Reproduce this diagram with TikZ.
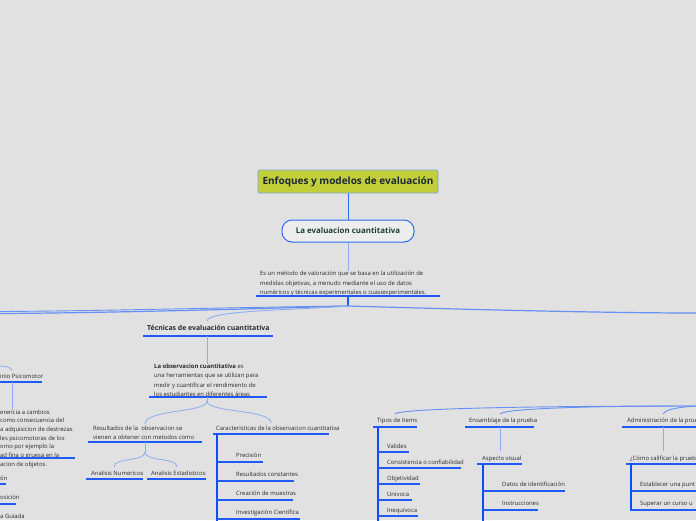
\documentclass[tikz,border=0pt]{standalone}
\usepackage{fontspec}
\setmainfont{Open Sans}
\definecolor{bgc}{HTML}{E1E1E1}
\definecolor{titlefill}{HTML}{C3CF38}
\definecolor{titleborder}{HTML}{7AA8E6}
\definecolor{titletext}{HTML}{1A2735}
\definecolor{boxborder}{HTML}{2F6BF2}
\definecolor{boxtext}{HTML}{1D3F30}
\definecolor{ulblue}{HTML}{1F5BFA}
\definecolor{barblue}{HTML}{0C4BFF}
\definecolor{connblue}{HTML}{8DADF2}
\definecolor{branchblue}{HTML}{6690F2}
\definecolor{txtc}{HTML}{2A2A2A}
\begin{document}
\begin{tikzpicture}[x=1pt,y=-1pt,
  txt/.style={font=\fontsize{5.9}{9}\selectfont, text=txtc, inner sep=0pt, anchor=base west},
  para/.style={txt, align=left, anchor=north west},
  bold/.style={txt, font=\bfseries\fontsize{6.9}{8}\selectfont},
  ul/.style={draw=ulblue, line width=1.1pt},
  bar/.style={draw=barblue, line width=2.4pt},
  conn/.style={draw=connblue, line width=0.8pt},
  branch/.style={draw=branchblue, line width=1.2pt},
]
\fill[bgc] (0,0) rectangle (696,520);
\useasboundingbox (0,0) rectangle (696,520);
\clip (0,0) rectangle (696,520);

% ---------- centre ----------
\node[draw=titleborder, fill=titlefill, rounded corners=2pt, line width=0.8pt,
      minimum width=180pt, minimum height=23pt, inner sep=0pt,
      font=\bfseries\fontsize{10}{12}\selectfont, text=titletext] (title) at (348,181.5) {Enfoques y modelos de evaluación};
\node[draw=boxborder, fill=bgc!60!white, rounded corners=10pt, line width=1pt,
      minimum width=132pt, minimum height=22pt, inner sep=0pt,
      font=\bfseries\fontsize{7.9}{9}\selectfont, text=boxtext] (eval) at (348,231) {La evaluacion cuantitativa};
\draw[draw=boxborder, line width=1pt] (title.south) -- (eval.north);

\node[para, font=\fontsize{5.9}{9.5}\selectfont] (desc) at (260,271) {Es un método de valoración que se basa en la utilización de\\medidas objetivas, a menudo mediante el uso de datos\\numéricos y técnicas experimentales o cuasiexperimentales.};
\draw[conn] (eval.south) -- (eval.south |- desc.north);
\coordinate (descL) at (256,296);
\coordinate (descR) at (440,296);
\coordinate (descS) at (348,296);
\coordinate (hub) at (348,306);
\draw[ul] (descL) -- (descR);
\draw[ul] (descS) -- (hub);

\coordinate (leftA) at (0,313.5);
\coordinate (leftB) at (0,311.5);
\coordinate (rightA) at (696,313);
\coordinate (tecTop) at (207,321);
\draw[branch] (hub) .. controls (250,309) and (100,313) .. (leftA);
\draw[branch, line width=0.9pt] (hub) .. controls (250,307) and (100,311) .. (leftB);
\draw[branch] (hub) .. controls (450,309) and (600,313) .. (rightA);
\draw[branch, draw=connblue, line width=0.9pt] (hub) .. controls (300,310) and (207,310) .. (tecTop);

% ---------- Tecnicas ----------
\node[bold] (tec) at (147,330.5) {Técnicas de evaluación cuantitativa};
\coordinate (tecL) at (143,336);
\coordinate (tecR) at (273,336);
\coordinate (tecS) at (207,336);
\draw[ul] (tecL) -- (tecR);
\node[para, font=\fontsize{5.9}{9.3}\selectfont] (obs) at (154,364) {\textbf{La observacion cuantitativa} es\\una herramientas que se utilizan para\\medir y cuantificar el rendimiento de\\los estudiantes en diferentes áreas};
\draw[conn] (tecS) -- (tecS |- obs.north);
\coordinate (obsL) at (149,397);
\coordinate (obsR) at (267,397);
\coordinate (obsS) at (207,397);
\coordinate (obsH) at (207,401);
\draw[ul] (obsL) -- (obsR);
\draw[conn] (obsS) -- (obsH);

\node[para, font=\fontsize{5.9}{9}\selectfont] (res) at (93,425.5) {Resultados de la\ \ observacion se\\vienen a obtener con metodos como};
\coordinate (resTop) at (145,424);
\coordinate (resL) at (88,442);
\coordinate (resR) at (202,442);
\coordinate (resS) at (145,442);
\coordinate (resH) at (145,452);
\draw[ul] (resL) -- (resR);
\draw[conn] (obsH) .. controls (207,413) and (145,409) .. (resTop);

\node[txt] (car) at (216,430.5) {Caracteristicas de la observacion cuantitativa};
\coordinate (carTop) at (271,423);
\coordinate (carL) at (213,434);
\coordinate (carR) at (329,434);
\coordinate (carB) at (217,434);
\coordinate (carE) at (217,525);
\draw[ul] (carL) -- (carR);
\draw[conn] (obsH) .. controls (207,413) and (271,409) .. (carTop);
\draw[bar] (carB) -- (carE);

\draw[conn] (resS) -- (resH);
\node[txt] (num) at (91,475.5) {Analisis Numericos};
\node[txt] (est) at (151,475.5) {Analisis Estadisticos};
\coordinate (numTop) at (114,467);
\coordinate (estTop) at (177,467);
\draw[conn] (resH) .. controls (145,462) and (114,457) .. (numTop);
\draw[conn] (resH) .. controls (145,462) and (177,457) .. (estTop);
\draw[ul] (86,479) coordinate (numL) -- (143,479) coordinate (numR);
\draw[ul] (147,479) coordinate (estL) -- (206,479) coordinate (estR);

\node[txt] (c1) at (236,457.5) {Precisión};
\node[txt] (c2) at (236,476.5) {Resultados constantes};
\node[txt] (c3) at (236,495.5) {Creación de muestras};
\node[txt] (c4) at (236,514.5) {Investigación Científica};
\draw[ul] (217,462) coordinate (c1L) -- (263,462) coordinate (c1R);
\draw[ul] (217,481) coordinate (c2L) -- (294,481) coordinate (c2R);
\draw[ul] (217,500) coordinate (c3L) -- (293,500) coordinate (c3R);
\draw[ul] (217,519) coordinate (c4L) -- (300,519) coordinate (c4R);

% ---------- right fan ----------
\coordinate (fanR) at (696,406);
\coordinate (tipTop) at (395,414);
\coordinate (ensTop) at (500,414);
\coordinate (admTop) at (663,414);
\draw[branch, line width=0.9pt] (fanR) .. controls (550,406) and (400,408) .. (tipTop);
\draw[branch, line width=0.9pt] (fanR) .. controls (600,406) and (505,408) .. (ensTop);
\draw[branch, line width=0.9pt] (fanR) .. controls (685,407) and (666,408) .. (admTop);

% Tipos de items
\node[txt] (tip) at (377,422.5) {Tipos de ítems};
\draw[ul] (373,427) coordinate (tipL) -- (417,427) coordinate (tipR);
\coordinate (tipB) at (378,427);
\coordinate (tipE) at (378,525);
\draw[bar] (tipB) -- (tipE);
\node[txt] (t1) at (387,448) {Valides};
\node[txt] (t2) at (387,464) {Consistencia o confiabilidad};
\node[txt] (t3) at (387,480) {Objetividad};
\node[txt] (t4) at (387,496) {Univoca};
\node[txt] (t5) at (387,512) {Inequívoca};
\draw[ul] (378,452) coordinate (t1L) -- (409,452) coordinate (t1R);
\draw[ul] (378,468) coordinate (t2L) -- (461,468) coordinate (t2R);
\draw[ul] (378,484) coordinate (t3L) -- (420,484) coordinate (t3R);
\draw[ul] (378,500) coordinate (t4L) -- (412,500) coordinate (t4R);
\draw[ul] (378,516) coordinate (t5L) -- (418,516) coordinate (t5R);

% Ensamblaje
\node[txt] (ens) at (469,422.5) {Ensamblaje de la prueba};
\draw[ul] (465,427) coordinate (ensL) -- (534,427) coordinate (ensR);
\coordinate (ensS) at (500,427);
\node[txt] (asp) at (482,460) {Aspecto visual};
\coordinate (aspTop) at (500,451);
\draw[conn] (ensS) -- (aspTop);
\draw[ul] (477,464) coordinate (aspL) -- (522,464) coordinate (aspR);
\coordinate (aspB) at (483,464);
\coordinate (aspE) at (483,525);
\draw[bar] (aspB) -- (aspE);
\node[txt] (a1) at (502,486.5) {Datos de identificación};
\node[txt] (a2) at (502,505.5) {Instrucciones};
\draw[ul] (483,491) coordinate (a1L) -- (565,491) coordinate (a1R);
\draw[ul] (483,510) coordinate (a2L) -- (538,510) coordinate (a2R);

% Administracion
\node[txt] (adm) at (627,422.5) {Administración de la prue};
\draw[ul] (622,427) coordinate (admL) -- (696,427) coordinate (admR);
\coordinate (admS) at (663,427);
\node[txt] (cal) at (630,460) {¿Cómo calificar la prueb};
\coordinate (calTop) at (663,451);
\draw[conn] (admS) -- (calTop);
\draw[ul] (626,464) coordinate (calL) -- (696,464) coordinate (calR);
\coordinate (calB) at (631,463);
\coordinate (calE) at (631,511);
\draw[bar] (calB) -- (calE);
\node[txt] (d1) at (640,486.5) {Establecer una punt};
\node[txt] (d2) at (640,505.5) {Superar un curso u};
\draw[ul] (631,491) coordinate (d1L) -- (696,491) coordinate (d1R);
\draw[ul] (631,510) coordinate (d2L) -- (696,510) coordinate (d2R);

% ---------- left (cut) ----------
\coordinate (psiIn) at (0,366);
\coordinate (psiTop) at (12,371);
\draw[conn] (psiIn) .. controls (7,366) and (12,368) .. (psiTop);
\node[txt] (psi) at (0,378.5) {inio Psicomotor};
\draw[ul] (0,382) coordinate (psiL) -- (42,382) coordinate (psiR);
\coordinate (psiS) at (12,382);
\node[para, font=\fontsize{5.9}{8.65}\selectfont] (psip) at (0,409.5) {erencia a cambios\\como consecuencia del\\a adquisicion de destrezas\\les psicomotoras de los\\omo por ejemplo la\\ad fina o gruesa en la\\acion de objetos.};
\draw[conn] (psiS) -- (psiS |- psip.north);
\draw[ul] (0,458) coordinate (psipL) -- (75,458) coordinate (psipR);
\node[txt] (l1) at (0,480) {ón};
\draw[ul] (0,484) coordinate (l1L) -- (6,484) coordinate (l1R);
\node[txt] (l2) at (0,499) {osición};
\draw[ul] (0,504) coordinate (l2L) -- (16,504) coordinate (l2R);
\node[txt] (l3) at (0,518) {a Guiada};
\end{tikzpicture}
\end{document}
